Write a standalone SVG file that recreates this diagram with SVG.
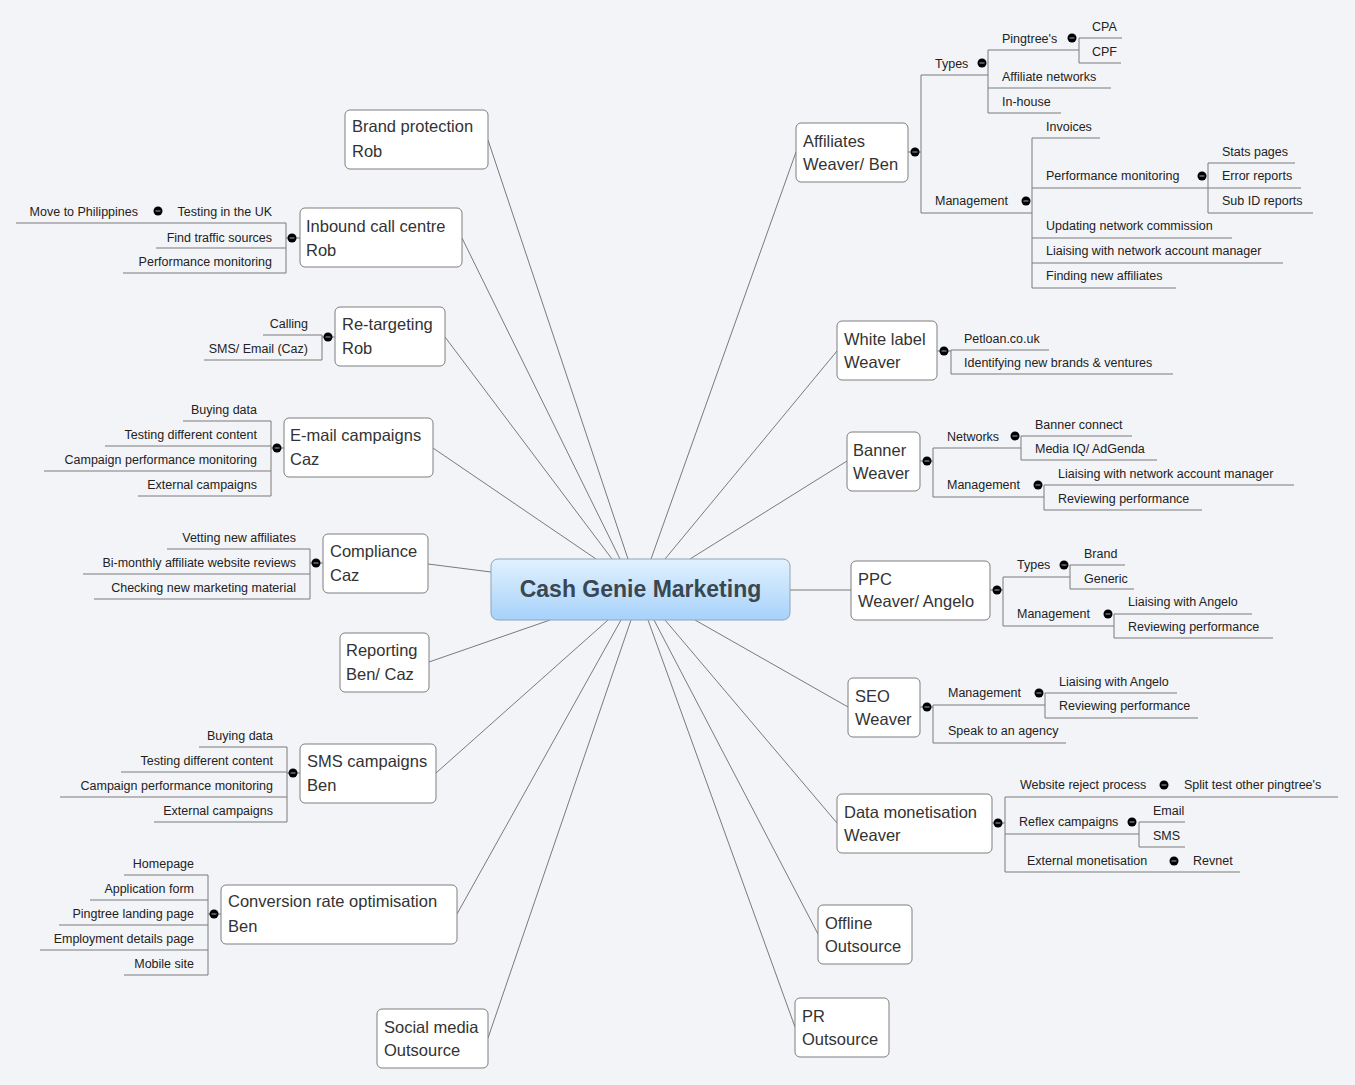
<svg xmlns="http://www.w3.org/2000/svg" width="1355" height="1085" viewBox="0 0 1355 1085">
<defs>
<linearGradient id="cg" x1="0" y1="0" x2="0" y2="1"><stop offset="0" stop-color="#e2f1ff"/><stop offset="1" stop-color="#a6d2fa"/></linearGradient>
<style>
.n{fill:#fff;stroke:#7f7f7f;stroke-width:1}
.nt{font-family:"Liberation Sans",Arial,sans-serif;font-size:16.5px;fill:#333}
.l{font-family:"Liberation Sans",Arial,sans-serif;font-size:12.5px;fill:#222}
.e{text-anchor:end}
.c path,.c line{stroke:#7a7a7a;stroke-width:1;fill:none}
.k circle{fill:#dce8f6;stroke:#a9c2e0;stroke-width:1}
</style>
<g id="tg"><circle cx="0" cy="0" r="4.5"/><line x1="-2.5" y1="0" x2="2.5" y2="0" stroke="#8fa9cc" stroke-width="1"/></g>
</defs>
<rect width="1355" height="1085" fill="#f3f4f8"/>
<g id="connectors" class="c">
<line x1="628" y1="559" x2="488" y2="140"/><line x1="620" y1="559" x2="462" y2="238"/><line x1="612" y1="559" x2="445" y2="337"/><line x1="596" y1="559" x2="433" y2="448"/><line x1="491" y1="572" x2="428" y2="564"/><line x1="550" y1="620" x2="429" y2="662"/><line x1="608" y1="620" x2="436" y2="773"/><line x1="621" y1="620" x2="457" y2="914"/><line x1="631" y1="620" x2="488" y2="1038"/>
<line x1="651" y1="559" x2="796" y2="152"/><line x1="665" y1="559" x2="837" y2="351"/><line x1="690" y1="559" x2="847" y2="461"/><line x1="790" y1="590" x2="851" y2="590"/><line x1="695" y1="620" x2="848" y2="707"/><line x1="665" y1="620" x2="837" y2="823"/><line x1="654" y1="620" x2="818" y2="934"/><line x1="648" y1="620" x2="795" y2="1027"/>
<path d="M908,152H921M921,75V213M921,75H988M988,50V113M988,50H1079M1079,38V63M1079,38H1122M1079,63H1121M988,88H1111M988,113H1061M921,213H1032M1032,138V288M1032,138H1100M1032,188H1208M1208,163V213M1208,163H1295M1208,188H1301M1208,213H1313M1032,238H1232M1032,263H1283M1032,288H1176"/>
<path d="M937,351H951M951,350V374M951,350H1049M951,374H1173"/>
<path d="M920,461H933M933,448V497M933,448H1021M1021,436V460M1021,436H1132M1021,460H1157M933,497H1044M1044,485V510M1044,485H1294M1044,510H1202"/>
<path d="M990,590H1003M1003,577V626M1003,577H1070M1070,565V589M1070,565H1125M1070,589H1134M1003,626H1114M1114,614V638M1114,614H1252M1114,638H1273"/>
<path d="M920,707H933M933,705V743M933,705H1045M1045,693V718M1045,693H1177M1045,718H1198M933,743H1066"/>
<path d="M992,823H1005M1005,797V872M1005,797H1338M1005,834H1139M1139,822V847M1139,822H1185M1139,847H1185M1005,872H1240"/>
<path d="M300,238H286M286,223V273M286,223H16M286,248H156M286,273H123"/>
<path d="M335,337H322M322,335V360M322,335H263M322,360H204"/>
<path d="M284,448H271M271,421V496M271,421H183M271,446H105M271,471H44M271,496H138"/>
<path d="M323,563H310M310,549V599M310,549H167M310,574H83M310,599H94"/>
<path d="M300,773H287M287,747V822M287,747H199M287,772H121M287,797H60M287,822H154"/>
<path d="M221,914H208M208,875V975M208,875H124M208,900H90M208,925H59M208,950H40M208,975H124"/>
</g>
<g id="toggles" class="k">
<use href="#tg" x="915" y="152"/><use href="#tg" x="982" y="63"/><use href="#tg" x="1072" y="38"/><use href="#tg" x="1026" y="201"/><use href="#tg" x="1202" y="176"/><use href="#tg" x="944" y="351"/><use href="#tg" x="927" y="461"/><use href="#tg" x="1015" y="436"/><use href="#tg" x="1038" y="485"/><use href="#tg" x="997" y="590"/><use href="#tg" x="1064" y="565"/><use href="#tg" x="1108" y="614"/><use href="#tg" x="927" y="707"/><use href="#tg" x="1039" y="693"/><use href="#tg" x="998" y="823"/><use href="#tg" x="1164" y="785"/><use href="#tg" x="1132" y="822"/><use href="#tg" x="1174" y="861"/><use href="#tg" x="292" y="238"/><use href="#tg" x="158" y="211"/><use href="#tg" x="328" y="337"/><use href="#tg" x="277" y="448"/><use href="#tg" x="316" y="563"/><use href="#tg" x="293" y="773"/><use href="#tg" x="214" y="914"/>
</g>
<g id="center"><rect x="491" y="559" width="299" height="61" rx="7" fill="url(#cg)" stroke="#8ea4bc"/><text x="640.5" y="597" text-anchor="middle" font-family="'Liberation Sans',Arial,sans-serif" font-size="23" font-weight="bold" fill="#3a4650">Cash Genie Marketing</text></g>
<g id="brand"><rect class="n" x="345" y="110" width="143" height="59" rx="5"/><text class="nt" x="352" y="132">Brand protection</text><text class="nt" x="352" y="157">Rob</text></g>
<g id="inbound"><rect class="n" x="300" y="208" width="162" height="59" rx="5"/><text class="nt" x="306" y="232">Inbound call centre</text><text class="nt" x="306" y="256">Rob</text>
<text class="l e" x="272" y="216">Testing in the UK</text><text class="l e" x="138" y="216">Move to Philippines</text><text class="l e" x="272" y="242">Find traffic sources</text><text class="l e" x="272" y="266">Performance monitoring</text></g>
<g id="retargeting"><rect class="n" x="335" y="307" width="110" height="59" rx="5"/><text class="nt" x="342" y="330">Re-targeting</text><text class="nt" x="342" y="354">Rob</text>
<text class="l e" x="308" y="328">Calling</text><text class="l e" x="308" y="353">SMS/ Email (Caz)</text></g>
<g id="email"><rect class="n" x="284" y="418" width="149" height="59" rx="5"/><text class="nt" x="290" y="441">E-mail campaigns</text><text class="nt" x="290" y="465">Caz</text>
<text class="l e" x="257" y="414">Buying data</text><text class="l e" x="257" y="439">Testing different content</text><text class="l e" x="257" y="464">Campaign performance monitoring</text><text class="l e" x="257" y="489">External campaigns</text></g>
<g id="compliance"><rect class="n" x="323" y="534" width="105" height="59" rx="5"/><text class="nt" x="330" y="557">Compliance</text><text class="nt" x="330" y="581">Caz</text>
<text class="l e" x="296" y="542">Vetting new affiliates</text><text class="l e" x="296" y="567">Bi-monthly affiliate website reviews</text><text class="l e" x="296" y="592">Checking new marketing material</text></g>
<g id="reporting"><rect class="n" x="340" y="633" width="89" height="59" rx="5"/><text class="nt" x="346" y="656">Reporting</text><text class="nt" x="346" y="680">Ben/ Caz</text></g>
<g id="sms"><rect class="n" x="300" y="744" width="136" height="59" rx="5"/><text class="nt" x="307" y="767">SMS campaigns</text><text class="nt" x="307" y="791">Ben</text>
<text class="l e" x="273" y="740">Buying data</text><text class="l e" x="273" y="765">Testing different content</text><text class="l e" x="273" y="790">Campaign performance monitoring</text><text class="l e" x="273" y="815">External campaigns</text></g>
<g id="cro"><rect class="n" x="221" y="885" width="236" height="59" rx="5"/><text class="nt" x="228" y="907">Conversion rate optimisation</text><text class="nt" x="228" y="932">Ben</text>
<text class="l e" x="194" y="868">Homepage</text><text class="l e" x="194" y="893">Application form</text><text class="l e" x="194" y="918">Pingtree landing page</text><text class="l e" x="194" y="943">Employment details page</text><text class="l e" x="194" y="968">Mobile site</text></g>
<g id="social"><rect class="n" x="377" y="1009" width="111" height="59" rx="5"/><text class="nt" x="384" y="1033">Social media</text><text class="nt" x="384" y="1056">Outsource</text></g>
<g id="affiliates"><rect class="n" x="796" y="123" width="112" height="59" rx="5"/><text class="nt" x="803" y="147">Affiliates</text><text class="nt" x="803" y="170">Weaver/ Ben</text>
<text class="l" x="935" y="68">Types</text><text class="l" x="1002" y="43">Pingtree's</text><text class="l" x="1092" y="31">CPA</text><text class="l" x="1092" y="56">CPF</text><text class="l" x="1002" y="81">Affiliate networks</text><text class="l" x="1002" y="106">In-house</text>
<text class="l" x="935" y="205">Management</text><text class="l" x="1046" y="131">Invoices</text><text class="l" x="1046" y="180">Performance monitoring</text><text class="l" x="1222" y="156">Stats pages</text><text class="l" x="1222" y="180">Error reports</text><text class="l" x="1222" y="205">Sub ID reports</text><text class="l" x="1046" y="230">Updating network commission</text><text class="l" x="1046" y="255">Liaising with network account manager</text><text class="l" x="1046" y="280">Finding new affiliates</text></g>
<g id="whitelabel"><rect class="n" x="837" y="321" width="100" height="59" rx="5"/><text class="nt" x="844" y="345">White label</text><text class="nt" x="844" y="368">Weaver</text>
<text class="l" x="964" y="343">Petloan.co.uk</text><text class="l" x="964" y="367">Identifying new brands &amp; ventures</text></g>
<g id="banner"><rect class="n" x="847" y="432" width="73" height="59" rx="5"/><text class="nt" x="853" y="456">Banner</text><text class="nt" x="853" y="479">Weaver</text>
<text class="l" x="947" y="441">Networks</text><text class="l" x="1035" y="429">Banner connect</text><text class="l" x="1035" y="453">Media IQ/ AdGenda</text><text class="l" x="947" y="489">Management</text><text class="l" x="1058" y="478">Liaising with network account manager</text><text class="l" x="1058" y="503">Reviewing performance</text></g>
<g id="ppc"><rect class="n" x="851" y="561" width="139" height="59" rx="5"/><text class="nt" x="858" y="585">PPC</text><text class="nt" x="858" y="607">Weaver/ Angelo</text>
<text class="l" x="1017" y="569">Types</text><text class="l" x="1084" y="558">Brand</text><text class="l" x="1084" y="583">Generic</text><text class="l" x="1017" y="618">Management</text><text class="l" x="1128" y="606">Liaising with Angelo</text><text class="l" x="1128" y="631">Reviewing performance</text></g>
<g id="seo"><rect class="n" x="848" y="678" width="72" height="59" rx="5"/><text class="nt" x="855" y="702">SEO</text><text class="nt" x="855" y="725">Weaver</text>
<text class="l" x="948" y="697">Management</text><text class="l" x="1059" y="686">Liaising with Angelo</text><text class="l" x="1059" y="710">Reviewing performance</text><text class="l" x="948" y="735">Speak to an agency</text></g>
<g id="datamon"><rect class="n" x="837" y="794" width="155" height="59" rx="5"/><text class="nt" x="844" y="818">Data monetisation</text><text class="nt" x="844" y="841">Weaver</text>
<text class="l" x="1020" y="789">Website reject process</text><text class="l" x="1184" y="789">Split test other pingtree's</text><text class="l" x="1019" y="826">Reflex campaigns</text><text class="l" x="1153" y="815">Email</text><text class="l" x="1153" y="840">SMS</text><text class="l" x="1027" y="865">External monetisation</text><text class="l" x="1193" y="865">Revnet</text></g>
<g id="offline"><rect class="n" x="818" y="905" width="94" height="59" rx="5"/><text class="nt" x="825" y="929">Offline</text><text class="nt" x="825" y="952">Outsource</text></g>
<g id="pr"><rect class="n" x="795" y="998" width="94" height="59" rx="5"/><text class="nt" x="802" y="1022">PR</text><text class="nt" x="802" y="1045">Outsource</text></g>
</svg>
